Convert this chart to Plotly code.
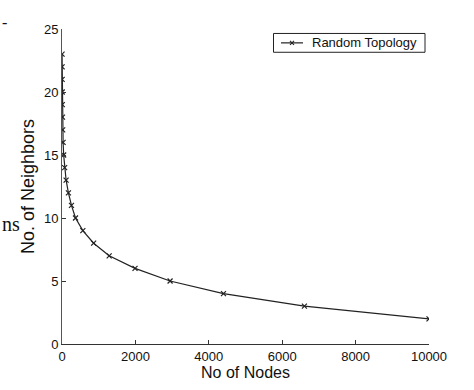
import plotly.graph_objects as go

nodes = [2, 3, 4, 6, 9, 13, 19, 30, 45, 72, 112, 175, 258, 368, 568, 862, 1285, 1990, 2945, 4400, 6605, 10000]
neighbors = [23, 22, 21, 20, 19, 18, 17, 16, 15, 14, 13, 12, 11, 10, 9, 8, 7, 6, 5, 4, 3, 2]
x_ticks = [0, 2000, 4000, 6000, 8000, 10000]
y_ticks = [0, 5, 10, 15, 20, 25]
series_name = "Random Topology"

# plot area in pixels (for converting legend placement to paper coords)
L, R, T, B = 62, 429, 29, 347
def px(xp):
    return (xp - L) / (R - L)
def py(yp):
    return (B - yp) / (B - T)

fig = go.Figure()
fig.add_trace(go.Scatter(
    x=nodes, y=neighbors, mode="lines+markers", name=series_name,
    line=dict(color="#222", width=1.2),
    marker=dict(symbol="x-thin", size=5, line=dict(color="#222", width=1.2)),
    showlegend=False,
))

font_family = "Liberation Sans, Arial, sans-serif"
axis_font = dict(family=font_family, size=13, color="#111")
fig.update_layout(
    width=474, height=390,
    margin=dict(l=L, r=474 - R, t=T, b=390 - B),
    paper_bgcolor="white", plot_bgcolor="white",
    xaxis=dict(range=[0, 10000], tickvals=x_ticks, ticktext=[str(v) for v in x_ticks],
               ticks="inside", ticklen=4, tickcolor="#333", showgrid=False, zeroline=False,
               showline=True, linecolor="#333", linewidth=1, tickfont=axis_font,
               title=dict(text="No of Nodes", font=dict(family=font_family, size=16, color="#111"), standoff=3)),
    yaxis=dict(range=[0, 25], tickvals=y_ticks, ticks="inside", ticklen=4, tickcolor="#333",
               showgrid=False, zeroline=False, showline=True, linecolor="#555", linewidth=1,
               tickfont=axis_font,
               title=dict(text="No. of Neighbors", font=dict(family=font_family, size=18, color="#111"), standoff=4)),
)

# legend box (MATLAB style)
fig.add_shape(type="rect", xref="paper", yref="paper",
              x0=px(273.5), x1=px(425), y0=py(52.5), y1=py(33.5),
              line=dict(color="#222", width=1), fillcolor="white", layer="above")
fig.add_shape(type="line", xref="paper", yref="paper",
              x0=px(281), x1=px(303), y0=py(43), y1=py(43),
              line=dict(color="#222", width=1.2), layer="above")
fig.add_shape(type="line", xref="paper", yref="paper",
              x0=px(290), x1=px(294), y0=py(41), y1=py(45),
              line=dict(color="#222", width=1.1), layer="above")
fig.add_shape(type="line", xref="paper", yref="paper",
              x0=px(290), x1=px(294), y0=py(45), y1=py(41),
              line=dict(color="#222", width=1.1), layer="above")
fig.add_annotation(x=px(310), y=py(43), xref="paper", yref="paper", text=series_name,
                   showarrow=False, xanchor="left", yanchor="middle",
                   font=dict(family=font_family, size=13, color="#111"))

# cropped text fragments from the surrounding page
fig.add_annotation(x=px(0), y=py(226), xref="paper", yref="paper", text="ns", showarrow=False,
                   xanchor="left", yanchor="middle",
                   font=dict(family="Liberation Serif, Times New Roman, serif", size=20, color="#111"))
fig.add_annotation(x=px(0), y=py(22), xref="paper", yref="paper", text="-", showarrow=False,
                   xanchor="left", yanchor="middle",
                   font=dict(family="Liberation Serif, serif", size=16, color="#111"))
fig.write_html("out.html")
